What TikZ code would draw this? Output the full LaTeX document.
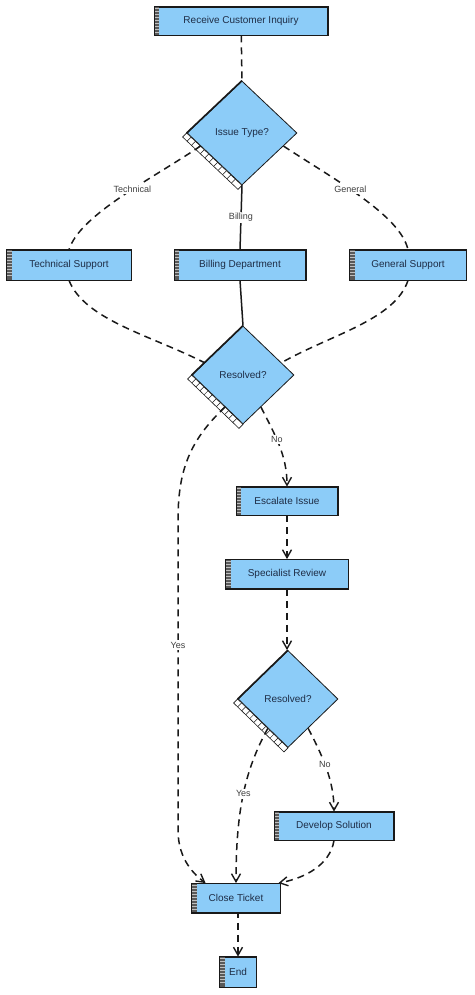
\documentclass[tikz,border=0pt]{standalone}
\usepackage{fontspec}
\setmainfont{Liberation Sans}
\usetikzlibrary{shapes.geometric,arrows.meta,calc}
\definecolor{boxfill}{RGB}{140,204,248}
\definecolor{ink}{RGB}{25,25,25}
\definecolor{txt}{RGB}{30,45,70}
\begin{document}
\begin{tikzpicture}[x=1pt,y=-1pt,
  proc/.style={draw=ink, fill=boxfill, line width=0.8pt, minimum height=28pt, inner sep=0pt,
    font=\fontsize{10}{12}\selectfont, text=txt},
  dec/.style={diamond, draw=ink, fill=boxfill, line width=0.8pt, inner sep=0pt,
    font=\fontsize{10}{12}\selectfont, text=txt},
  conn/.style={draw=ink, line width=1.5pt, dash pattern=on 7pt off 5pt},
  solidconn/.style={draw=ink, line width=1.5pt},
  arr/.style={conn, -{Straight Barb[length=8pt,width=9pt,line width=1.4pt]}},
  lab/.style={fill=white, inner sep=1.5pt, font=\fontsize{9}{11}\selectfont, text=black!75}
]
\useasboundingbox (0,0) rectangle (474,995);

% nodes
\node[proc, minimum width=173pt] (receive) at (241,21) {Receive Customer Inquiry};
\node[dec, minimum width=110pt, minimum height=104pt] (issue) at (242,133) {Issue Type?};
\node[proc, minimum width=124pt, minimum height=30pt] (tech) at (69,265) {Technical Support};
\node[proc, minimum width=131pt, minimum height=30pt] (bill) at (240,265) {Billing Department};
\node[proc, minimum width=116pt, minimum height=30pt] (gen) at (408,265) {General Support};
\node[dec, minimum width=102pt, minimum height=98pt] (res1) at (243,375) {Resolved?};
\node[proc, minimum width=101pt] (esc) at (287,501) {Escalate Issue};
\node[proc, minimum width=122pt, minimum height=29pt] (spec) at (287,574) {Specialist Review};
\node[dec, minimum width=100pt, minimum height=97pt] (res2) at (288,699) {Resolved?};
\node[proc, minimum width=119pt] (dev) at (334,826) {Develop Solution};
\node[proc, minimum width=88pt, minimum height=29pt] (close) at (236,898) {Close Ticket};
\node[proc, minimum width=36pt, minimum height=30pt] (end) at (238,972) {End};

% box shading (left strip, bottom edge)
\foreach \n in {receive,tech,bill,gen,esc,spec,dev,close,end}{
  \fill[black!65] (\n.north west) rectangle ($(\n.south west)+(5,0)$);
  \foreach \k in {2,5,...,27}{
    \draw[black!25, line width=0.3pt] ($(\n.north west)+(0,\k)$) -- ++(5,0);
  }
  \draw[ink, line width=0.8pt] (\n.north west) rectangle (\n.south east);
  \draw[ink, line width=1.6pt, dash pattern=on 5pt off 1.5pt] (\n.south west) -- (\n.south east);
}

% diamond shading (lower-left edge)
\foreach \n in {issue,res1,res2}{
  \filldraw[fill=white, draw=ink, line width=0.6pt] (\n.west) -- (\n.south) -- ($(\n.south)+(-4,4)$) -- ($(\n.west)+(-4,4)$) -- cycle;
  \foreach \t in {0.08,0.16,...,0.96}{
    \draw[ink, line width=0.5pt] ($(\n.west)!\t!(\n.south)$) -- ++(-4,4);
  }
  \draw[ink, line width=1.6pt] (\n.west) -- (\n.north);
}

% connectors
\draw[conn] (receive) -- (issue.north);
\draw[conn] ($(issue.west)!0.25!(issue.south)$) .. controls (150,180) and (80,215) .. (tech.north)
  node[lab, pos=0.42] {Technical};
\draw[solidconn] (issue.south) -- node[lab, pos=0.5] {Billing} (bill.north);
\draw[conn] ($(issue.east)!0.25!(issue.south)$) .. controls (335,180) and (400,215) .. (gen.north)
  node[lab, pos=0.42] {General};

\draw[conn] (tech.south) .. controls (85,320) and (150,335) .. ($(res1.west)!0.25!(res1.north)$);
\draw[solidconn] (bill.south) -- (res1.north);
\draw[conn] (gen.south) .. controls (395,320) and (330,335) .. ($(res1.east)!0.25!(res1.north)$);

\draw[arr] ($(res1.south)!0.35!(res1.east)$) .. controls (275,435) and (287,455) .. (esc.north)
  node[lab, pos=0.42] {No};
\draw[arr] ($(res1.west)!0.65!(res1.south)$) .. controls (190,440) and (178,470) .. (178,520)
  -- (178,830) .. controls (178,860) and (195,875) .. ($(close.north west)+(14,0)$);
\node[lab] (yes1) at (178,645) {Yes};

\draw[arr] (esc.south) -- (spec.north);
\draw[arr] (spec.south) -- (spec.south |- res2.north);

\draw[arr] ($(res2.west)!0.6!(res2.south)$) .. controls (245,770) and (236,810) .. (close.north)
  node[lab, pos=0.5] {Yes};
\draw[arr] ($(res2.south)!0.4!(res2.east)$) .. controls (322,755) and (334,780) .. (dev.north)
  node[lab, pos=0.45] {No};
\draw[arr] (dev.south) .. controls (330,865) and (305,878) .. ($(close.north east)+(-2,0)$);
\draw[arr] (close.south) -- (close.south -| end.north) -- (end.north);
\end{tikzpicture}
\end{document}
